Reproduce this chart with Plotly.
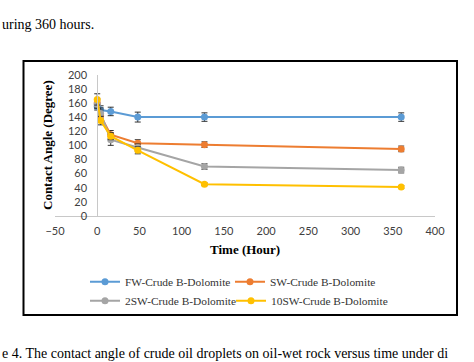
import plotly.graph_objects as go

# ---- data ----
time_h = [0, 4, 16, 48, 127, 360]
series_names = ["FW-Crude B-Dolomite", "SW-Crude B-Dolomite",
                "2SW-Crude B-Dolomite", "10SW-Crude B-Dolomite"]
fw_angle = [155, 150, 148, 140, 140, 140]
fw_err = [5, 6, 6, 7, 6, 6]
sw_angle = [160, 142, 115, 103, 101, 95]
sw_err = [6, 8, 6, 5, 4, 4]
sw2_angle = [158, 145, 108, 97, 70, 65]
sw2_err = [6, 8, 8, 5, 4, 4]
sw10_angle = [165, 135, 113, 93, 45, 41]
sw10_err = [8, 6, 5, 5, 2, 2]

x_ticks = [-50, 0, 50, 100, 150, 200, 250, 300, 350, 400]
y_ticks = [0, 20, 40, 60, 80, 100, 120, 140, 160, 180, 200]

colors = ["#5B9BD5", "#ED7D31", "#A5A5A5", "#FFC000"]
legend_ids = ["legend", "legend2", "legend3", "legend4"]
# legend entry positions (px): left of legend box, row centre
legend_pos = [(85, 281.7), (230, 281.7), (85, 300.7), (231, 300.7)]

W, H = 474, 362
SERIF = "Liberation Serif"
SANS = "Lato"

fig = go.Figure()
for name, ys, es, c, lg in zip(series_names,
                               [fw_angle, sw_angle, sw2_angle, sw10_angle],
                               [fw_err, sw_err, sw2_err, sw10_err],
                               colors, legend_ids):
    fig.add_trace(go.Scatter(
        x=time_h, y=ys, name=name, mode="lines+markers",
        line=dict(color=c, width=2),
        marker=dict(color=c, size=7, symbol="circle"),
        error_y=dict(type="data", array=es, visible=True,
                     color="#333333", thickness=1, width=3),
        legend=lg, showlegend=True,
    ))

x0p, x1p = 55 / W, 435 / W
y_bot, y_top = 1 - 216 / H, 1 - 74.7 / H
ypos = x0p + (x1p - x0p) * 50 / 450

legend_layout = {}
for lg, (lx, ly) in zip(legend_ids, legend_pos):
    legend_layout[lg] = dict(
        orientation="h", x=lx / W, xanchor="left",
        y=1 - ly / H, yanchor="middle",
        font=dict(family=SERIF, size=11.4, color="#333333"),
        bgcolor="rgba(0,0,0,0)", visible=True)

fig.update_layout(
    width=W, height=H, autosize=False, showlegend=True,
    margin=dict(l=0, r=0, t=0, b=0, pad=0, autoexpand=False),
    paper_bgcolor="white", plot_bgcolor="white",
    xaxis=dict(domain=[x0p, x1p], range=[-50, 400], tickvals=x_ticks,
               showgrid=False, zeroline=False, showline=True, automargin=False,
               linecolor="#c8c8c8", linewidth=1, ticks="",
               ticklabelstandoff=5,
               tickfont=dict(family=SANS, size=11, color="#404040")),
    yaxis=dict(domain=[y_bot, y_top], range=[0, 200], tickvals=y_ticks,
               anchor="free", position=ypos, automargin=False,
               showgrid=False, zeroline=False, showline=True,
               linecolor="#c8c8c8", linewidth=1, ticks="",
               ticklabelstandoff=8,
               tickfont=dict(family=SANS, size=11, color="#404040")),
    shapes=[dict(type="rect", xref="paper", yref="paper",
                 x0=23.5 / W, x1=457 / W, y0=1 - 315 / H, y1=1 - 61 / H,
                 line=dict(color="black", width=2), fillcolor="rgba(0,0,0,0)")],
    annotations=[
        dict(text="<b>Contact Angle (Degree)</b>", textangle=-90,
             xref="paper", yref="paper", x=47 / W, y=1 - 145 / H,
             xanchor="center", yanchor="middle",
             showarrow=False, font=dict(family=SERIF, size=13, color="black")),
        dict(text="<b>Time (Hour)</b>",
             xref="paper", yref="paper", x=245 / W, y=1 - 249 / H,
             xanchor="center", yanchor="middle",
             showarrow=False, font=dict(family=SERIF, size=13, color="black")),
        dict(text="uring 360 hours.", xref="paper", yref="paper",
             x=0, y=1 - 25 / H, xanchor="left", yanchor="middle",
             showarrow=False, font=dict(family=SERIF, size=14, color="black")),
        dict(text="e 4. The contact angle of crude oil droplets on oil-wet rock versus time under di",
             xref="paper", yref="paper",
             x=0, y=1 - 353 / H, xanchor="left", yanchor="middle",
             showarrow=False, font=dict(family=SERIF, size=14, color="black")),
    ],
    **legend_layout,
)

fig.write_html("out.html",
               config={"displayModeBar": False},
               post_script="document.body.style.margin='0px';document.body.style.overflow='hidden';")
